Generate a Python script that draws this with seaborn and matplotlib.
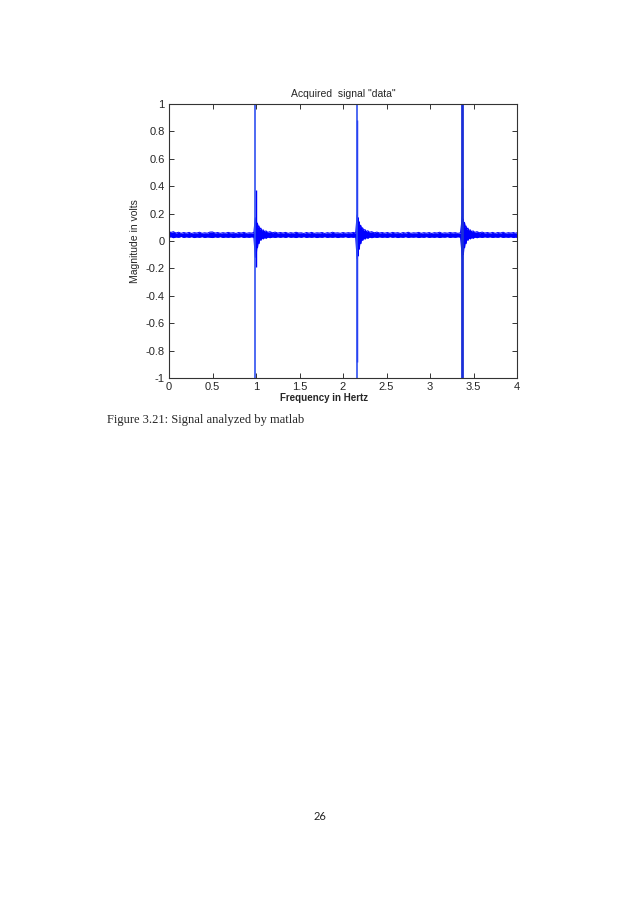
"""
Recreate the 'Acquired signal "data"' page figure (MATLAB style plot on a report page)
"""
import matplotlib
matplotlib.use("Agg")
import matplotlib.pyplot as plt
import seaborn as sns
import pandas as pd

# Noisy trace: x position, upper and lower edge of the band
# quiet stretch before the first burst
base1_x = [0.00, 0.02, 0.05, 0.08, 0.11, 0.14, 0.17, 0.20, 0.23, 0.26, 0.29, 0.32, 0.35, 0.38, 0.41, 0.44,
           0.47, 0.50, 0.53, 0.56, 0.59, 0.62, 0.65, 0.68, 0.71, 0.74, 0.77, 0.80, 0.83, 0.86, 0.89, 0.92,
           0.95, 0.975]
base1_hi = [0.072, 0.062, 0.068, 0.058, 0.064, 0.056, 0.062, 0.057, 0.063, 0.055, 0.061, 0.058, 0.064, 0.056, 0.060, 0.057,
            0.065, 0.066, 0.058, 0.062, 0.056, 0.061, 0.057, 0.063, 0.058, 0.061, 0.055, 0.062, 0.058, 0.063, 0.056, 0.060,
            0.058, 0.062]
base1_lo = [0.026, 0.032, 0.024, 0.030, 0.027, 0.033, 0.026, 0.031, 0.027, 0.032, 0.025, 0.030, 0.027, 0.032, 0.026, 0.030,
            0.028, 0.025, 0.031, 0.027, 0.032, 0.026, 0.030, 0.027, 0.031, 0.025, 0.030, 0.028, 0.032, 0.026, 0.030, 0.027,
            0.031, 0.028]
# first burst
burst1_x = [0.992, 0.998, 1.004, 1.010, 1.017, 1.025, 1.034, 1.044, 1.055, 1.068, 1.082, 1.098, 1.115, 1.135,
            1.16, 1.19, 1.22, 1.25, 1.28]
burst1_hi = [0.17, 0.12, 0.16, 0.11, 0.13, 0.10, 0.11, 0.085, 0.095, 0.075, 0.082, 0.068, 0.074, 0.063,
             0.068, 0.060, 0.065, 0.058, 0.062]
burst1_lo = [-0.12, -0.06, -0.10, -0.03, -0.05, 0.00, -0.02, 0.015, 0.005, 0.022, 0.015, 0.026, 0.020, 0.029,
             0.024, 0.030, 0.026, 0.031, 0.027]
# quiet stretch between first and second burst
base2_x = [1.31, 1.34, 1.37, 1.40, 1.43, 1.46, 1.49, 1.52, 1.55, 1.58, 1.61, 1.64, 1.67, 1.70, 1.73, 1.76,
           1.79, 1.82, 1.85, 1.88, 1.91, 1.94, 1.97, 2.00, 2.03, 2.06, 2.09, 2.12, 2.145]
base2_hi = [0.058, 0.063, 0.056, 0.061, 0.057, 0.064, 0.058, 0.060, 0.055, 0.062, 0.057, 0.063, 0.056, 0.060, 0.058, 0.062,
            0.055, 0.061, 0.057, 0.064, 0.058, 0.060, 0.056, 0.062, 0.057, 0.061, 0.058, 0.063, 0.057]
base2_lo = [0.031, 0.026, 0.032, 0.027, 0.030, 0.025, 0.031, 0.027, 0.032, 0.026, 0.030, 0.027, 0.031, 0.025, 0.030, 0.027,
            0.032, 0.026, 0.030, 0.027, 0.031, 0.025, 0.030, 0.028, 0.032, 0.026, 0.030, 0.027, 0.031]
# second burst
burst2_x = [2.162, 2.168, 2.174, 2.180, 2.187, 2.195, 2.204, 2.214, 2.225, 2.238, 2.252, 2.268, 2.285, 2.305,
            2.33, 2.36, 2.39, 2.42, 2.45]
burst2_hi = [0.19, 0.13, 0.17, 0.12, 0.14, 0.10, 0.115, 0.088, 0.097, 0.077, 0.084, 0.069, 0.075, 0.064,
             0.068, 0.060, 0.065, 0.058, 0.062]
burst2_lo = [-0.13, -0.07, -0.11, -0.04, -0.06, 0.00, -0.02, 0.015, 0.004, 0.022, 0.014, 0.026, 0.020, 0.029,
             0.024, 0.030, 0.026, 0.031, 0.027]
# quiet stretch between second and third burst
base3_x = [2.48, 2.51, 2.54, 2.57, 2.60, 2.63, 2.66, 2.69, 2.72, 2.75, 2.78, 2.81, 2.84, 2.87, 2.90, 2.93,
           2.96, 2.99, 3.02, 3.05, 3.08, 3.11, 3.14, 3.17, 3.20, 3.23, 3.26, 3.29, 3.32, 3.35]
base3_hi = [0.057, 0.062, 0.056, 0.063, 0.058, 0.061, 0.055, 0.062, 0.057, 0.064, 0.056, 0.060, 0.058, 0.063, 0.056, 0.061,
            0.057, 0.062, 0.055, 0.061, 0.058, 0.064, 0.056, 0.060, 0.057, 0.062, 0.058, 0.061, 0.056, 0.060]
base3_lo = [0.030, 0.026, 0.032, 0.027, 0.031, 0.025, 0.030, 0.027, 0.032, 0.026, 0.030, 0.028, 0.031, 0.025, 0.030, 0.027,
            0.032, 0.026, 0.030, 0.027, 0.031, 0.025, 0.030, 0.028, 0.032, 0.026, 0.030, 0.027, 0.031, 0.028]
# third burst
burst3_x = [3.372, 3.378, 3.384, 3.390, 3.397, 3.405, 3.414, 3.424, 3.435, 3.448, 3.462, 3.478, 3.495, 3.515,
            3.54, 3.57, 3.60, 3.63, 3.66]
burst3_hi = [0.18, 0.12, 0.16, 0.11, 0.135, 0.10, 0.11, 0.086, 0.095, 0.076, 0.082, 0.068, 0.074, 0.063,
             0.068, 0.060, 0.065, 0.058, 0.062]
burst3_lo = [-0.12, -0.06, -0.10, -0.03, -0.05, 0.00, -0.02, 0.015, 0.005, 0.022, 0.015, 0.026, 0.020, 0.029,
             0.024, 0.030, 0.026, 0.031, 0.027]
# quiet stretch to the end
base4_x = [3.69, 3.72, 3.75, 3.78, 3.81, 3.84, 3.87, 3.90, 3.93, 3.96, 3.98, 4.00]
base4_hi = [0.057, 0.063, 0.056, 0.062, 0.058, 0.064, 0.056, 0.061, 0.058, 0.062, 0.057, 0.060]
base4_lo = [0.031, 0.026, 0.030, 0.027, 0.032, 0.026, 0.030, 0.027, 0.031, 0.025, 0.029, 0.027]

# Thin peaks at the start of each burst
peak_x = [0.995, 2.163, 3.373]
peak_hi = [0.37, 0.88, 0.39]
peak_lo = [-0.19, -0.88, -0.13]

# Clipped spikes that run off the whole axis
spike_x = [0.987, 2.157, 3.367]
spike_width = [1.2, 1.2, 2.0]

y_ticks = [-1, -0.8, -0.6, -0.4, -0.2, 0, 0.2, 0.4, 0.6, 0.8, 1]
y_labels = ["-1", "-0.8", "-0.6", "-0.4", "-0.2", "0", "0.2", "0.4", "0.6", "0.8", "1"]
x_ticks = [0, 0.5, 1, 1.5, 2, 2.5, 3, 3.5, 4]
x_labels = ["0", "0.5", "1", "1.5", "2", "2.5", "3", "3.5", "4"]

sns.set_style("ticks")
plt.rcParams['font.family'] = ['Liberation Sans', 'DejaVu Sans']

fig = plt.figure(figsize=(6.38, 9.02), dpi=100)
fig.patch.set_facecolor('white')
ax = fig.add_axes([169 / 638, 1 - 378 / 902, 348 / 638, 274 / 902])

df = pd.DataFrame({
    'x': base1_x + burst1_x + base2_x + burst2_x + base3_x + burst3_x + base4_x,
    'hi': base1_hi + burst1_hi + base2_hi + burst2_hi + base3_hi + burst3_hi + base4_hi,
    'lo': base1_lo + burst1_lo + base2_lo + burst2_lo + base3_lo + burst3_lo + base4_lo,
})
ax.fill_between(df['x'], df['lo'], df['hi'], color='#0000ff', linewidth=0)
sns.lineplot(data=df, x='x', y='hi', ax=ax, color='#0000ff', linewidth=0.7)
sns.lineplot(data=df, x='x', y='lo', ax=ax, color='#0000ff', linewidth=0.7)

ax.vlines(peak_x, peak_lo, peak_hi, color='#0000ff', linewidth=1.0)
for sx, sw in zip(spike_x, spike_width):
    ax.axvline(sx, color='#3050f0' if sw < 1.5 else '#1a2fd8', linewidth=sw)

ax.set_xlim(0, 4)
ax.set_ylim(-1, 1)
ax.set_xticks(x_ticks)
ax.set_xticklabels(x_labels)
ax.set_yticks(y_ticks)
ax.set_yticklabels(y_labels)
ax.tick_params(direction='in', top=True, right=True, length=3.5, width=0.7,
               labelsize=8, color='#333333', pad=3)
for sp in ax.spines.values():
    sp.set_color('#333333')
    sp.set_linewidth(0.8)

ax.set_title('Acquired  signal "data"', fontsize=7.5, pad=5)
ax.set_xlabel('Frequency in Hertz', fontsize=7, fontweight='bold')
ax.xaxis.set_label_coords(0.445, -0.056)
ax.set_ylabel('Magnitude in volts', fontsize=7.5, labelpad=4)

fig.text(107 / 638, 1 - 420 / 902, 'Figure 3.21: Signal analyzed by matlab',
         family=['Liberation Serif', 'DejaVu Serif'], fontsize=9, va='center', ha='left')
fig.text(320 / 638, 1 - 817 / 902, '26', family=['Lato', 'DejaVu Sans'],
         fontsize=8, va='center', ha='center', color='#222222')

fig.savefig('out.png', dpi=100, facecolor='white')
